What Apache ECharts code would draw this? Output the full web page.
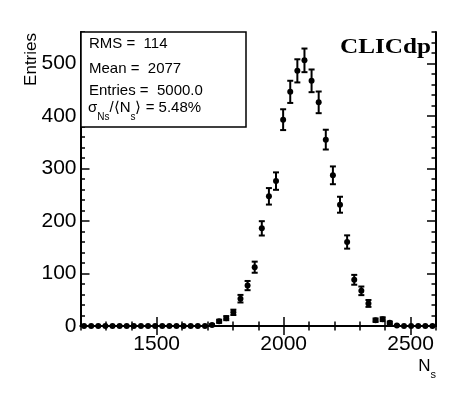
<!DOCTYPE html>
<html>
<head>
<meta charset="utf-8">
<script src="https://cdn.jsdelivr.net/npm/echarts@6/dist/echarts.min.js"></script>
<style>
  html, body { margin: 0; padding: 0; background: #fff; }
  #chart { width: 474px; height: 399px; }
</style>
</head>
<body>
<div id="chart"></div>
<script>
// histogram: 50 bins of width 28 from 1200 to 2600
const binCenters = [
  1214, 1242, 1270, 1298, 1326, 1354, 1382, 1410, 1438, 1466,
  1494, 1522, 1550, 1578, 1606, 1634, 1662, 1690, 1718, 1746,
  1774, 1802, 1830, 1858, 1886, 1914, 1942, 1970, 1998, 2026,
  2054, 2082, 2110, 2138, 2166, 2194, 2222, 2250, 2278, 2306,
  2334, 2362, 2390, 2418, 2446, 2474, 2502, 2530, 2558, 2586
];
const counts = [
  0, 0, 0, 0, 0, 0, 0, 0, 0, 0,
  0, 0, 0, 0, 0, 0, 0, 0, 2, 9,
  15, 26, 52, 77, 112, 186, 247, 276, 393, 446,
  486, 506, 467, 426, 355, 287, 231, 160, 88, 67,
  43, 11, 13, 6, 1, 0, 0, 0, 0, 0
];
const xLabels = [1500, 2000, 2500];
const yLabels = [0, 100, 200, 300, 400, 500];
const statLines = ["RMS =  114", "Mean =  2077", "Entries =  5000.0"];

const font = "Liberation Sans";
const chart = echarts.init(document.getElementById("chart"));

const points = binCenters.map((c, i) => [c, counts[i], Math.sqrt(counts[i])]);

function renderPoint(params, api) {
  const x = api.value(0), y = api.value(1), e = api.value(2);
  const p = api.coord([x, y]);
  const kids = [];
  if (e > 0) {
    const top = api.coord([x, y + e])[1];
    const bot = api.coord([x, y - e])[1];
    const st = { stroke: "#000", lineWidth: 2 };
    kids.push({ type: "line", shape: { x1: p[0], y1: top, x2: p[0], y2: bot }, style: st });
    kids.push({ type: "line", shape: { x1: p[0] - 3, y1: top, x2: p[0] + 3, y2: top }, style: st });
    kids.push({ type: "line", shape: { x1: p[0] - 3, y1: bot, x2: p[0] + 3, y2: bot }, style: st });
  }
  kids.push({ type: "circle", shape: { cx: p[0], cy: p[1], r: 3 }, style: { fill: "#000" } });
  return { type: "group", children: kids };
}

const plain = v => String(v);

// ROOT-like frame: minor-tick axis + major-tick axis on each side
function xAxisPair(pos, labels) {
  return [
    {
      type: "value", position: pos, min: 1200, max: 2600, interval: 100,
      axisLine: { show: true, lineStyle: { color: "#000", width: 2 } },
      axisTick: { show: true, inside: true, length: 4.5, lineStyle: { color: "#000", width: 1.5 } },
      axisLabel: labels
        ? { show: true, customValues: xLabels, formatter: plain, color: "#000", fontFamily: font, fontSize: 21, margin: 8 }
        : { show: false },
      splitLine: { show: false }
    },
    {
      type: "value", position: pos, min: 1200, max: 2600,
      axisLine: { show: false },
      axisTick: { show: true, inside: true, length: 9, customValues: xLabels, lineStyle: { color: "#000", width: 1.5 } },
      axisLabel: { show: false },
      splitLine: { show: false }
    }
  ];
}
function yAxisPair(pos, labels) {
  return [
    {
      type: "value", position: pos, min: 0, max: 560, interval: 20,
      axisLine: { show: true, lineStyle: { color: "#000", width: 2 } },
      axisTick: { show: true, inside: true, length: 4.5, lineStyle: { color: "#000", width: 1.5 } },
      axisLabel: labels
        ? { show: true, customValues: yLabels, formatter: plain, color: "#000", fontFamily: font, fontSize: 21, margin: 4 }
        : { show: false },
      splitLine: { show: false }
    },
    {
      type: "value", position: pos, min: 0, max: 560,
      axisLine: { show: false },
      axisTick: { show: true, inside: true, length: 9, customValues: yLabels, lineStyle: { color: "#000", width: 1.5 } },
      axisLabel: { show: false },
      splitLine: { show: false }
    }
  ];
}

const option = {
  backgroundColor: "#fff",
  animation: false,
  grid: { left: 80.5, right: 38, top: 32, bottom: 73 },
  xAxis: xAxisPair("bottom", true).concat(xAxisPair("top", false)),
  yAxis: yAxisPair("left", true).concat(yAxisPair("right", false)),
  series: [
    {
      type: "custom",
      xAxisIndex: 0,
      yAxisIndex: 0,
      renderItem: renderPoint,
      encode: { x: 0, y: 1 },
      data: points,
      z: 5
    }
  ],
  graphic: [
    // stats box
    {
      type: "rect", z: 10,
      shape: { x: 81, y: 32, width: 165, height: 95 },
      style: { fill: "#fff", stroke: "#000", lineWidth: 1.5 }
    },
    {
      type: "text", z: 11, x: 89, y: 44,
      style: { text: statLines[0], fill: "#000", font: "15px " + font, verticalAlign: "middle" }
    },
    {
      type: "text", z: 11, x: 89, y: 68.5,
      style: { text: statLines[1], fill: "#000", font: "15px " + font, verticalAlign: "middle" }
    },
    {
      type: "text", z: 11, x: 89, y: 91,
      style: { text: statLines[2], fill: "#000", font: "15px " + font, verticalAlign: "middle" }
    },
    {
      type: "text", z: 11, x: 88, y: 111,
      style: {
        text: "{a|σ}{s|Ns}{a|/⟨N}{s|s}{a|⟩ = 5.48%}",
        verticalAlign: "middle",
        rich: {
          a: { fontFamily: font, fontSize: 15, fill: "#000", lineHeight: 22, verticalAlign: "top" },
          s: { fontFamily: font, fontSize: 10, fill: "#000", lineHeight: 22, verticalAlign: "bottom" }
        }
      }
    },
    // CLICdp label
    {
      type: "text", z: 11, x: 431, y: 48, scaleX: 1.26, originX: 0, originY: 0,
      style: {
        text: "CLICdp", fill: "#000", font: "bold 20px 'Liberation Serif'",
        align: "right", verticalAlign: "middle"
      }
    },
    // axis titles
    {
      type: "text", z: 11, x: 31, y: 33, rotation: Math.PI / 2,
      style: { text: "Entries", fill: "#000", font: "17px " + font, align: "right", verticalAlign: "middle" }
    },
    {
      type: "text", z: 11, x: 436, y: 369,
      style: {
        text: "{a|N}{s|s}",
        align: "right", verticalAlign: "middle",
        rich: {
          a: { fontFamily: font, fontSize: 17, fill: "#000", lineHeight: 22, verticalAlign: "top" },
          s: { fontFamily: font, fontSize: 11, fill: "#000", lineHeight: 22, verticalAlign: "bottom" }
        }
      }
    }
  ]
};

chart.setOption(option);
</script>
</body>
</html>
